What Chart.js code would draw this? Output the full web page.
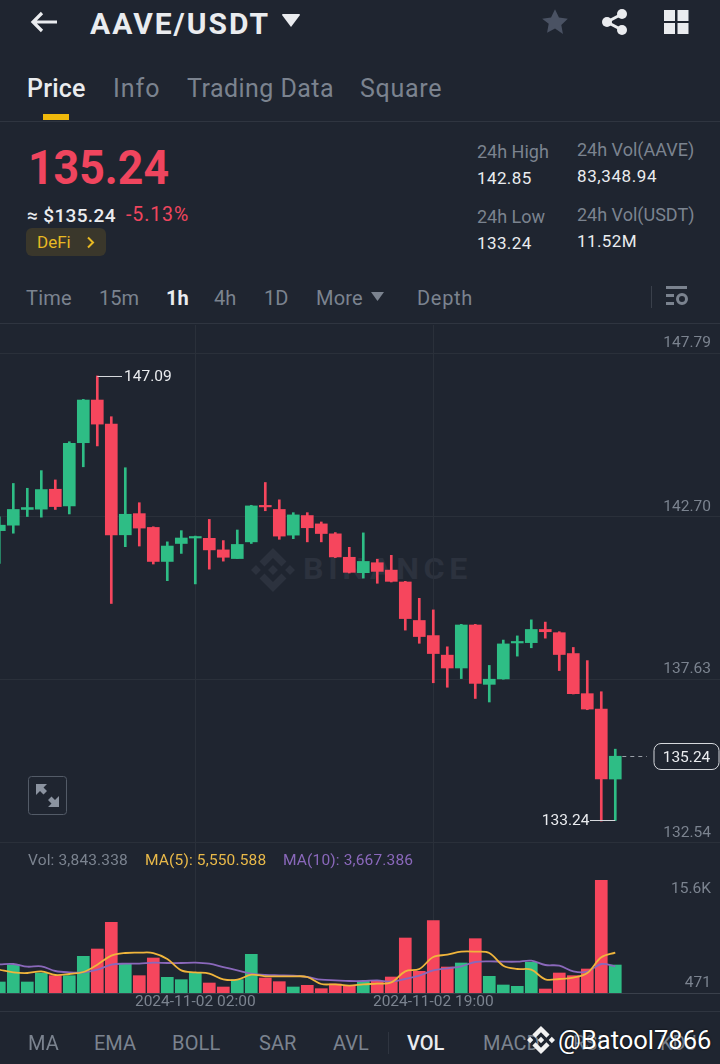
<!DOCTYPE html>
<html><head><meta charset="utf-8">
<script src="https://cdn.jsdelivr.net/npm/chart.js@4"></script>
<style>
html,body{margin:0;padding:0;background:#1f2530;width:720px;height:1064px;overflow:hidden}
body{position:relative;font-family:Roboto,"Noto Sans",sans-serif;color:#7b838f}
.t{position:absolute;white-space:nowrap;line-height:1;transform:translateY(-50%)}
.w{color:#eaecef}
.ln{position:absolute;left:0;width:720px;height:1px;background:#2f3540}
canvas{position:absolute;left:0}
svg{position:absolute}
</style></head><body>
<!-- header -->
<svg style="left:30px;top:10px" width="30" height="24" viewBox="0 0 30 24"><path d="M27 12H4M12 3l-9 9 9 9" fill="none" stroke="#eaecef" stroke-width="3.2"/></svg>
<div class="t w" style="left:90px;top:23.500px;font-size:30px;font-weight:700;letter-spacing:2px">AAVE/USDT</div>
<svg style="left:282px;top:14px" width="18" height="13"><path d="M0 1Q0 0 1 0H17Q18 0 18 1L9 13Z" fill="#eaecef"/></svg>
<svg style="left:541px;top:8px" width="28" height="28" viewBox="0 0 24 24"><path d="M12 1l3.4 7.2 7.6 1-5.6 5.3 1.4 7.8L12 17.6 5.200 21.300l1.400-7.800L1 9.200l7.600-1z" fill="#4a5263"/></svg>
<svg style="left:601px;top:8px" width="28" height="28" viewBox="0 0 28 28"><g fill="#eaecef"><circle cx="21" cy="6" r="5"/><circle cx="21" cy="22" r="5"/><circle cx="6" cy="14" r="5"/></g><path d="M21 6L6 14l15 8" fill="none" stroke="#eaecef" stroke-width="3"/></svg>
<svg style="left:664px;top:10px" width="26" height="25"><g fill="#eaecef"><rect width="11" height="11"/><rect x="13.500" width="11" height="11"/><rect y="13" width="11" height="11"/><rect x="13.500" y="13" width="11" height="11"/></g></svg>
<div class="t w" style="left:27px;top:88px;font-size:25px;font-weight:500;letter-spacing:.2px">Price</div>
<div class="t" style="left:113px;top:88px;font-size:25px;letter-spacing:1px">Info</div>
<div class="t" style="left:187px;top:88px;font-size:25px;letter-spacing:.45px">Trading Data</div>
<div class="t" style="left:360px;top:88px;font-size:25px;letter-spacing:.7px">Square</div>
<div style="position:absolute;left:43px;top:114px;width:26px;height:6px;background:#f0b90b"></div>
<div class="ln" style="top:121px"></div>
<div class="t" style="left:28px;top:168px;font-size:48px;font-weight:700;color:#f0455e;transform:translateY(-50%) scaleX(.93);transform-origin:left center">135.24</div>
<div class="t w" style="left:27px;top:215px;font-size:19px;font-weight:500;letter-spacing:.35px">≈ $135.24</div>
<div class="t" style="left:126px;top:215px;font-size:19.500px;letter-spacing:.9px;color:#f0455e">-5.13%</div>
<div style="position:absolute;left:26px;top:228px;width:80px;height:28px;border-radius:6px;background:#3a372b"></div>
<div class="t" style="left:37px;top:242px;font-size:17px;color:#e8b923">DeFi</div>
<svg style="left:86px;top:236px" width="10" height="13"><path d="M2 1.500l5 5-5 5" fill="none" stroke="#e8b923" stroke-width="2"/></svg>
<div class="t" style="left:477px;top:152px;font-size:18px">24h High</div>
<div class="t w" style="left:477px;top:178px;font-size:17px;letter-spacing:.4px">142.85</div>
<div class="t" style="left:577px;top:150px;font-size:18px">24h Vol(AAVE)</div>
<div class="t w" style="left:577px;top:176px;font-size:17px;letter-spacing:.6px">83,348.94</div>
<div class="t" style="left:477px;top:217px;font-size:18px">24h Low</div>
<div class="t w" style="left:477px;top:243px;font-size:17px;letter-spacing:.4px">133.24</div>
<div class="t" style="left:577px;top:215px;font-size:18px">24h Vol(USDT)</div>
<div class="t w" style="left:577px;top:241px;font-size:17px;letter-spacing:.4px">11.52M</div>
<div class="t" style="left:26px;top:298px;font-size:20px;letter-spacing:.2px">Time</div>
<div class="t" style="left:99px;top:298px;font-size:20px">15m</div>
<div class="t w" style="left:166px;top:298px;font-size:20px;font-weight:700">1h</div>
<div class="t" style="left:214px;top:298px;font-size:20px">4h</div>
<div class="t" style="left:264px;top:298px;font-size:20px">1D</div>
<div class="t" style="left:316px;top:298px;font-size:20px;letter-spacing:.2px">More</div>
<svg style="left:371px;top:292px" width="13" height="9"><path d="M0 0H13L6.500 9Z" fill="#7b838f"/></svg>
<div class="t" style="left:417px;top:298px;font-size:20px;letter-spacing:.7px">Depth</div>
<div style="position:absolute;left:651px;top:286px;width:1px;height:22px;background:#3a404b"></div>
<svg style="left:665px;top:286px" width="24" height="22"><g fill="#7b838f"><rect x="1" width="21" height="3"/><rect x="1" y="8" width="8" height="3"/><rect x="1" y="16" width="8" height="3"/></g><circle cx="17" cy="13" r="4.500" fill="none" stroke="#7b838f" stroke-width="3"/></svg>
<div class="ln" style="top:323px"></div>
<!-- watermark -->
<svg style="left:251px;top:548px" width="44" height="44" viewBox="0 0 24 24"><path d="M16.624 13.920l2.718 2.715-7.353 7.353-7.353-7.352 2.718-2.716 4.635 4.660 4.636-4.660zm4.637-4.637L24 12l-2.715 2.716L18.568 12l2.693-2.716zm-9.272.001l2.716 2.691-2.716 2.717v-.001L9.272 12l2.717-2.715zm-9.272-.001L5.409 12l-2.691 2.692L0 12l2.716-2.716zM11.989.012l7.353 7.329-2.717 2.715-4.636-4.636-4.635 4.660-2.718-2.716 7.353-7.352z" fill="#2c323e"/></svg>
<div class="t" style="left:303px;top:568.500px;font-size:29px;font-weight:700;letter-spacing:4.200px;color:#2c323e;transform:translateY(-50%) scaleX(1.11);transform-origin:left center">BINANCE</div>
<canvas id="price" width="720" height="520" style="top:325px"></canvas>
<svg style="left:28px;top:776px" width="39" height="39"><rect x=".5" y=".5" width="38" height="38" rx="3" fill="none" stroke="#535b67"/><g fill="#8b93a0"><path d="M8 8h11l-3.500 3.500 3.500 3.500-3.500 3.500-3.500-3.500L8 19zM31 31H20l3.500-3.500-3.500-3.500 3.500-3.500 3.500 3.500L31 20z"/></g></svg>
<!-- volume panel -->
<canvas id="vol" width="720" height="168" style="top:843px"></canvas>
<div class="t" style="left:28px;top:861px;font-size:15.500px;letter-spacing:.15px">Vol: 3,843.338</div>
<div class="t" style="left:145px;top:861px;font-size:15.500px;letter-spacing:.15px;color:#e9b949">MA(5): 5,550.588</div>
<div class="t" style="left:283px;top:861px;font-size:15.500px;letter-spacing:.15px;color:#8a68bb">MA(10): 3,667.386</div>
<div class="ln" style="top:1011px"></div>
<div class="t" style="left:28px;top:1043px;font-size:20px">MA</div>
<div class="t" style="left:94px;top:1043px;font-size:20px">EMA</div>
<div class="t" style="left:172px;top:1043px;font-size:20px;letter-spacing:.2px">BOLL</div>
<div class="t" style="left:259px;top:1043px;font-size:20px">SAR</div>
<div class="t" style="left:333px;top:1043px;font-size:20px">AVL</div>
<div style="position:absolute;left:388px;top:1032px;width:1px;height:22px;background:#2f3540"></div>
<div class="t w" style="left:407px;top:1043px;font-size:20px;font-weight:500">VOL</div>
<div class="t" style="left:483px;top:1043px;font-size:20px">MACD</div>
<div class="t" style="left:573px;top:1043px;font-size:20px">RSI</div>
<div class="t" style="left:660px;top:1043px;font-size:20px">KDJ</div>
<svg style="left:527px;top:1026px" width="28" height="28" viewBox="0 0 24 24"><path d="M16.624 13.920l2.718 2.715-7.353 7.353-7.353-7.352 2.718-2.716 4.635 4.660 4.636-4.660zm4.637-4.637L24 12l-2.715 2.716L18.568 12l2.693-2.716zm-9.272.001l2.716 2.691-2.716 2.717v-.001L9.272 12l2.717-2.715zm-9.272-.001L5.409 12l-2.691 2.692L0 12l2.716-2.716zM11.989.012l7.353 7.329-2.717 2.715-4.636-4.636-4.635 4.660-2.718-2.716 7.353-7.352z" fill="#f2f2f2"/></svg>
<div class="t" style="left:558px;top:1041px;font-size:25.500px;color:#fff;text-shadow:0 0 2px #000">@Batool7866</div>
<script>
const opens=[142.27,142.44,142.93,142.94,143.56,143.04,145.01,146.34,145.59,142.14,142.80,142.37,141.31,141.87,142.04,142.03,141.67,141.40,141.92,143.05,142.93,142.13,142.74,142.48,142.17,141.44,140.96,141.27,141.04,140.67,139.47,139.00,138.39,137.99,139.33,137.48,137.65,138.77,138.78,139.19,139.09,138.44,137.19,136.71,134.53];
const closes=[142.44,142.93,142.99,143.55,143.02,144.99,146.34,145.59,142.14,142.78,142.35,141.31,141.79,142.04,142.08,141.67,141.44,141.84,143.04,143.01,142.10,142.76,142.36,142.18,141.45,140.97,141.31,141.00,140.69,139.53,138.97,138.44,137.99,139.33,137.51,137.64,138.74,138.81,139.19,139.12,138.41,137.19,136.71,134.53,135.24];
const highs=[142.70,143.74,143.59,144.14,143.85,145.04,146.36,147.09,145.82,144.23,143.14,142.39,141.92,142.27,142.10,142.62,141.96,142.29,143.06,143.77,143.23,142.83,142.83,142.54,142.21,141.75,142.20,141.38,141.50,140.69,140.16,139.80,138.65,139.35,139.35,138.07,138.86,138.99,139.49,139.42,139.12,138.63,138.22,137.25,135.46];
const lows=[141.25,142.19,142.71,142.69,142.93,142.79,144.26,144.91,140.00,141.77,141.79,141.23,140.71,141.56,140.61,141.07,141.32,141.40,141.87,142.89,142.00,142.02,141.92,141.92,141.43,140.95,140.79,140.63,140.67,139.17,138.76,137.53,137.39,137.66,137.04,136.93,137.64,138.36,138.62,138.92,137.91,137.18,136.69,133.22,133.24];
const volumes=[1510,3890,1510,2746,2380,2380,5034,6040,9700,4027,2380,4805,2150,1830,2837,1373,824,1830,5308,2059,1556,824,1052,595,1236,1007,1600,1600,2196,7550,2974,9930,3569,4118,7459,2288,1098,915,4210,549,2746,2380,3295,15467,3843];
const ma5=[3203,2837,2746,2974,2471,2608,2883,3890,5125,5491,5537,5491,4668,3112,2837,2654,1876,1830,2517,2288,2288,2288,2196,1236,1190,1007,1190,1281,1464,2974,3295,4942,5262,5674,5674,5491,3752,3295,3203,1876,1922,2105,2746,4896,5551];
const ma10=[3935,3981,3615,3661,3020,2837,2837,3203,3890,4027,4027,4164,4118,4118,4164,4027,3569,3112,2654,2471,2425,2380,2196,1830,1739,1647,1647,1739,1556,1922,2380,3112,3386,3661,4256,4347,4301,4301,4439,3844,3752,2974,2929,3981,3667];
const priceTicks=[147.79,142.70,137.63,132.54];
const volTicks=[15600,471];
const volTickLabels=['15.6K','471'];
const timeTickIdx=[14,31];
const timeTickLabels=['2024-11-02 02:00','2024-11-02 19:00'];
const lastPrice=135.24, highMark=147.09, lowMark=133.24;

const GREEN='#2ebd85',RED='#f6465d',GRID='#2a303a',TXT='#7b838f',FONT='Roboto';
Chart.defaults.font.family=FONT;
const xs=opens.map((_,i)=>i);
const cols=xs.map(i=>closes[i]>=opens[i]?GREEN:RED);
const xScale=(show)=>({type:'linear',min:0.05,max:51.48,offset:false,position:'bottom',
  grid:{offset:false,color:GRID,lineWidth:1,drawTicks:false},
  border:{display:show,color:'#3a404b'},
  afterBuildTicks:s=>{s.ticks=timeTickIdx.map(v=>({value:v}))},
  afterFit:s=>{s.height=show?18:0;s.paddingLeft=s.paddingRight=0},
  ticks:{display:show,autoSkip:false,maxRotation:0,padding:0,color:TXT,font:{size:15.5},
    callback:(v)=>timeTickLabels[timeTickIdx.indexOf(v)]}});
const yFit=s=>{s.width=0;s.paddingTop=s.paddingBottom=0};
const base={responsive:false,animation:false,events:[],layout:{padding:0},
  plugins:{legend:{display:false},tooltip:{enabled:false}}};

const marks={id:'marks',afterDatasetsDraw(c){
  const ctx=c.ctx,x=c.scales.x,y=c.scales.y;
  ctx.save();ctx.font='15.5px '+FONT;ctx.textBaseline='middle';ctx.lineWidth=1;
  const hi=highs.indexOf(highMark),lo=lows.lastIndexOf(lowMark),n=closes.length-1;
  const hy=Math.round(y.getPixelForValue(highMark))+.5,ly=Math.round(y.getPixelForValue(lowMark))+.5,py=Math.round(y.getPixelForValue(lastPrice))+.5;
  ctx.strokeStyle='#d5d8dc';ctx.fillStyle='#eaecef';
  ctx.beginPath();ctx.moveTo(x.getPixelForValue(hi),hy);ctx.lineTo(122,hy);ctx.stroke();
  ctx.textAlign='left';ctx.fillText(String(highMark),124,hy+1);
  ctx.beginPath();ctx.moveTo(x.getPixelForValue(lo),ly);ctx.lineTo(590,ly);ctx.stroke();
  ctx.textAlign='right';ctx.fillText(String(lowMark),589.5,ly+1);
  ctx.strokeStyle='#9aa0a8';ctx.setLineDash([4,4]);
  ctx.beginPath();ctx.moveTo(x.getPixelForValue(n)+7,py);ctx.lineTo(647,py);ctx.stroke();ctx.setLineDash([]);
  ctx.strokeStyle='#d5d8dc';ctx.fillStyle='#1f2530';
  ctx.beginPath();ctx.roundRect(654,py-13,65,26,7);ctx.fill();ctx.stroke();
  ctx.fillStyle='#eaecef';ctx.textAlign='center';ctx.fillText(lastPrice.toFixed(2),686.5,py+1.5);
  ctx.restore();
}};

new Chart(document.getElementById('price'),{type:'bar',
  data:{datasets:[
    {label:'wick',data:xs.map(i=>({x:i,y:[lows[i],highs[i]]})),backgroundColor:cols,barThickness:2,grouped:false,borderSkipped:false,order:2},
    {label:'body',data:xs.map(i=>({x:i,y:[opens[i],closes[i]]})),backgroundColor:cols,barThickness:12,grouped:false,borderSkipped:false,minBarLength:1.5,order:1}
  ]},
  options:{...base,scales:{x:xScale(false),
    y:{type:'linear',position:'right',min:132.474,max:148.678,
      grid:{color:GRID,drawTicks:false},border:{display:false},
      afterBuildTicks:s=>{s.ticks=priceTicks.map(v=>({value:v}))},
      afterFit:yFit,
      ticks:{mirror:true,padding:-9,color:TXT,autoSkip:false,font:{size:15.5,lineHeight:'20px'},
        callback:v=>[v.toFixed(2),'']}}}},
  plugins:[marks]});

new Chart(document.getElementById('vol'),{type:'bar',
  data:{datasets:[
    {type:'line',label:'MA(10)',data:xs.map(i=>({x:i,y:ma10[i]})),borderColor:'#8a68bb',borderWidth:1.8,pointRadius:0,tension:.35,order:1},
    {type:'line',label:'MA(5)',data:xs.map(i=>({x:i,y:ma5[i]})),borderColor:'#f0b53c',borderWidth:1.8,pointRadius:0,tension:.35,order:0},
    {label:'Vol',data:xs.map(i=>({x:i,y:volumes[i]})),backgroundColor:cols,barThickness:12,grouped:false,order:2}
  ]},
  options:{...base,scales:{x:xScale(true),
    y:{type:'linear',position:'right',min:0,max:20595,
      grid:{display:false,drawTicks:false},border:{display:false},
      afterBuildTicks:s=>{s.ticks=volTicks.map(v=>({value:v}))},
      afterFit:yFit,
      ticks:{mirror:true,padding:-9,color:TXT,autoSkip:false,
        font:c=>({size:15.5,lineHeight:c.index===0?'20px':'13px'}),
        callback:(v,i)=>i===0?['',volTickLabels[0]]:[volTickLabels[1],'']}}}}});
</script>
</body></html>
